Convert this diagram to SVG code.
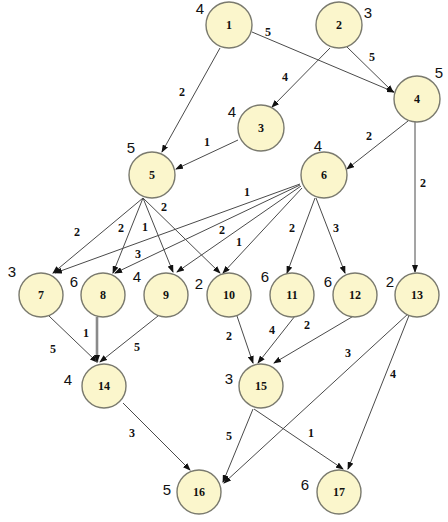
<svg xmlns="http://www.w3.org/2000/svg" width="448" height="522" viewBox="0 0 448 522">
<style>
.node circle{fill:#FBF6CC;stroke:#7a7a6e;stroke-width:1.4}
.node text{font-family:"Liberation Serif",serif;font-weight:bold;font-size:12px;text-anchor:middle;fill:#111}
.deg{font-family:"Liberation Sans",sans-serif;font-size:15px;fill:#111;text-anchor:middle}
.edges line{stroke:#4a4a4a;stroke-width:1;marker-end:url(#ah)}
.edges line.thick{stroke:#8a8a8a;stroke-width:2.6}
.w{font-family:"Liberation Serif",serif;font-weight:bold;font-size:12px;fill:#111;text-anchor:middle}
</style>
<defs>
<marker id="ah" markerUnits="userSpaceOnUse" markerWidth="8" markerHeight="6" refX="7" refY="3" orient="auto">
<path d="M0,0 L8,3 L0,6 Z" fill="#111"/>
</marker>
</defs>
<rect width="448" height="522" fill="#fff"/>
<g class="edges">
<line x1="220" y1="48" x2="162" y2="152"/>
<line x1="252" y1="32" x2="394" y2="92"/>
<line x1="330" y1="48" x2="272" y2="107"/>
<line x1="347" y1="47" x2="393" y2="92"/>
<line x1="238" y1="140" x2="176" y2="169"/>
<line x1="408" y1="121" x2="347" y2="169"/>
<line x1="415" y1="122" x2="415" y2="272"/>
<line x1="143" y1="198" x2="53" y2="273"/>
<line x1="143" y1="198" x2="113" y2="273"/>
<line x1="143" y1="198" x2="173" y2="272"/>
<line x1="143" y1="198" x2="220" y2="273"/>
<line x1="300" y1="184" x2="55" y2="273"/>
<line x1="300" y1="185" x2="115" y2="273"/>
<line x1="301" y1="186" x2="177" y2="272"/>
<line x1="302" y1="188" x2="223" y2="273"/>
<line x1="315" y1="198" x2="287" y2="273"/>
<line x1="316" y1="198" x2="345" y2="273"/>
<line x1="49" y1="316" x2="97" y2="362"/>
<line class="thick" x1="97" y1="317" x2="97" y2="362"/>
<line x1="158" y1="316" x2="100" y2="362"/>
<line x1="237" y1="316" x2="253" y2="363"/>
<line x1="295" y1="316" x2="258" y2="363"/>
<line x1="362" y1="311" x2="274" y2="363"/>
<line x1="409" y1="313" x2="224" y2="483"/>
<line x1="410" y1="313" x2="348" y2="469"/>
<line x1="123" y1="403" x2="190" y2="470"/>
<line x1="253" y1="409" x2="223" y2="482"/>
<line x1="254" y1="409" x2="343" y2="469"/>
</g>
<g class="weights">
<text class="w" x="182" y="96">2</text>
<text class="w" x="268" y="36">5</text>
<text class="w" x="285" y="81">4</text>
<text class="w" x="372" y="61">5</text>
<text class="w" x="207" y="146">1</text>
<text class="w" x="369" y="140">2</text>
<text class="w" x="423" y="187">2</text>
<text class="w" x="77" y="236">2</text>
<text class="w" x="121" y="232">2</text>
<text class="w" x="145" y="231">1</text>
<text class="w" x="164" y="211">2</text>
<text class="w" x="247" y="196">1</text>
<text class="w" x="138" y="258">3</text>
<text class="w" x="222" y="234">2</text>
<text class="w" x="239" y="246">1</text>
<text class="w" x="292" y="232">2</text>
<text class="w" x="336" y="232">3</text>
<text class="w" x="53" y="353">5</text>
<text class="w" x="86" y="337">1</text>
<text class="w" x="137" y="351">5</text>
<text class="w" x="229" y="340">2</text>
<text class="w" x="272" y="334">4</text>
<text class="w" x="307" y="329">2</text>
<text class="w" x="348" y="357">3</text>
<text class="w" x="393" y="378">4</text>
<text class="w" x="132" y="437">3</text>
<text class="w" x="229" y="440">5</text>
<text class="w" x="311" y="437">1</text>
</g>
<g id="n1" class="node"><circle cx="229" cy="25" r="23"/><text x="229" y="29">1</text></g>
<g id="n2" class="node"><circle cx="339" cy="25" r="23"/><text x="339" y="29">2</text></g>
<g id="n3" class="node"><circle cx="261" cy="128" r="23"/><text x="261" y="132">3</text></g>
<g id="n4" class="node"><circle cx="417" cy="99" r="23"/><text x="417" y="103">4</text></g>
<g id="n5" class="node"><circle cx="152" cy="175" r="23"/><text x="152" y="179">5</text></g>
<g id="n6" class="node"><circle cx="324" cy="175" r="23"/><text x="324" y="179">6</text></g>
<g id="n7" class="node"><circle cx="41" cy="295" r="22"/><text x="41" y="299">7</text></g>
<g id="n8" class="node"><circle cx="103" cy="295" r="22"/><text x="103" y="299">8</text></g>
<g id="n9" class="node"><circle cx="166" cy="295" r="22"/><text x="166" y="299">9</text></g>
<g id="n10" class="node"><circle cx="229" cy="295" r="22"/><text x="229" y="299">10</text></g>
<g id="n11" class="node"><circle cx="292" cy="295" r="22"/><text x="292" y="299">11</text></g>
<g id="n12" class="node"><circle cx="355" cy="295" r="22"/><text x="355" y="299">12</text></g>
<g id="n13" class="node"><circle cx="417" cy="295" r="22"/><text x="417" y="299">13</text></g>
<g id="n14" class="node"><circle cx="104" cy="386" r="22"/><text x="104" y="390">14</text></g>
<g id="n15" class="node"><circle cx="261" cy="386" r="22"/><text x="261" y="390">15</text></g>
<g id="n16" class="node"><circle cx="199" cy="492" r="22"/><text x="199" y="496">16</text></g>
<g id="n17" class="node"><circle cx="339" cy="492" r="22"/><text x="339" y="496">17</text></g>
<g class="degrees">
<text class="deg" x="200" y="14">4</text>
<text class="deg" x="368" y="18">3</text>
<text class="deg" x="439" y="78">5</text>
<text class="deg" x="232" y="117">4</text>
<text class="deg" x="131" y="153">5</text>
<text class="deg" x="318" y="151">4</text>
<text class="deg" x="12" y="277">3</text>
<text class="deg" x="74" y="287">6</text>
<text class="deg" x="137" y="282">4</text>
<text class="deg" x="199" y="289">2</text>
<text class="deg" x="265" y="282">6</text>
<text class="deg" x="328" y="287">6</text>
<text class="deg" x="390" y="287">2</text>
<text class="deg" x="68" y="385">4</text>
<text class="deg" x="229" y="384">3</text>
<text class="deg" x="167" y="495">5</text>
<text class="deg" x="305" y="490">6</text>
</g>
</svg>
